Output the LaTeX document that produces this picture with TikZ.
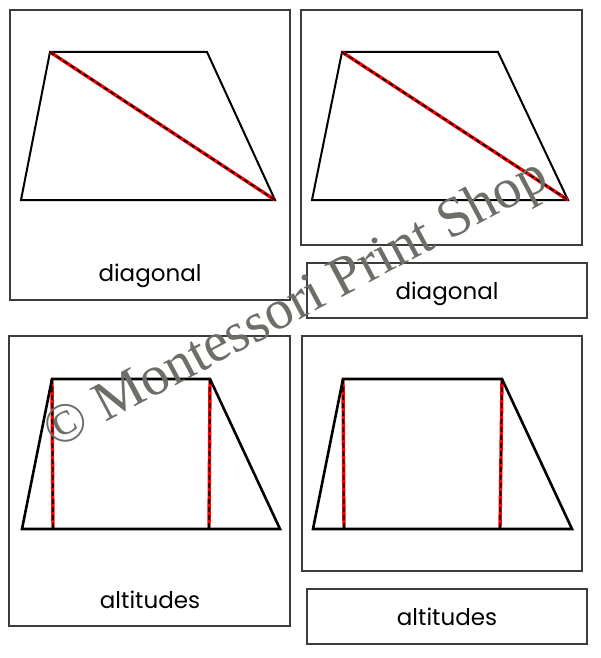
\documentclass[tikz,border=0pt]{standalone}
\usepackage{fontspec}
\newfontfamily\cardfont{Poppins}
\newfontfamily\markfont{Liberation Serif}
\usetikzlibrary{positioning}
\definecolor{markgray}{RGB}{108,110,104}
\definecolor{framegray}{RGB}{60,60,60}

\begin{document}
\begin{tikzpicture}[x=1pt,y=-1pt,
  cardframe/.style={draw=framegray,line width=1.2pt},
  trapline/.style={draw=black,line width=2pt,line join=miter},
  redpart/.style={draw=red,line width=3.4pt},
  dashpart/.style={draw=black,line width=1.6pt,dash pattern=on 5pt off 3pt},
  cardtext/.style={font=\cardfont\fontsize{23}{27}\selectfont,inner sep=0pt},
  marktext/.style={font=\markfont\fontsize{56}{62}\selectfont,text=markgray,inner sep=0pt}]
\useasboundingbox[fill=white] (0,0) rectangle (600,658);

% card frames
\draw[cardframe] (10,10) rectangle (290,300);
\draw[cardframe] (301,10) rectangle (582,245);
\draw[cardframe] (307,263) rectangle (587,318);
\draw[cardframe] (9,336) rectangle (290,626);
\draw[cardframe] (302,336) rectangle (582,571);
\draw[cardframe] (307,589) rectangle (587,644);

% diagonal, control card
\coordinate (a1) at (50,52);
\coordinate (b1) at (207,52);
\coordinate (c1) at (275,200);
\coordinate (d1) at (21,200);
\draw[trapline] (a1) -- (b1) -- (c1) -- (d1) -- cycle;
\draw[redpart] (a1) -- (c1);
\draw[dashpart] (a1) -- (c1);
\node[cardtext] (t1) at (150,276) {diagonal};

% diagonal, picture card
\coordinate (a2) at (342,52);
\coordinate (b2) at (498,52);
\coordinate (c2) at (568,200);
\coordinate (d2) at (312,200);
\draw[trapline] (a2) -- (b2) -- (c2) -- (d2) -- cycle;
\draw[redpart] (a2) -- (c2);
\draw[dashpart] (a2) -- (c2);
\node[cardtext] (t2) at (447,294) {diagonal};

% altitudes, control card
\coordinate (a3) at (52,379);
\coordinate (b3) at (210,379);
\coordinate (c3) at (280,529);
\coordinate (d3) at (22,529);
\coordinate (e3) at (53,529);
\coordinate (f3) at (209,529);
\draw[redpart] (a3) -- (e3);
\draw[redpart] (b3) -- (f3);
\draw[dashpart] (a3) -- (e3);
\draw[dashpart] (b3) -- (f3);
\draw[trapline,line width=2.6pt] (a3) -- (b3) -- (c3) -- (d3) -- cycle;
\node[cardtext] (t3) at (150,600) {altitudes};

% altitudes, picture card
\coordinate (a4) at (343,379);
\coordinate (b4) at (502,379);
\coordinate (c4) at (572,529);
\coordinate (d4) at (313,529);
\coordinate (e4) at (344,529);
\coordinate (f4) at (500,529);
\draw[redpart] (a4) -- (e4);
\draw[redpart] (b4) -- (f4);
\draw[dashpart] (a4) -- (e4);
\draw[dashpart] (b4) -- (f4);
\draw[trapline,line width=2.6pt] (a4) -- (b4) -- (c4) -- (d4) -- cycle;
\node[cardtext] (t4) at (447,617) {altitudes};

% watermark
\node[marktext,rotate=28] (mark) at (297,306) {© Montessori Print Shop};
\end{tikzpicture}
\end{document}
